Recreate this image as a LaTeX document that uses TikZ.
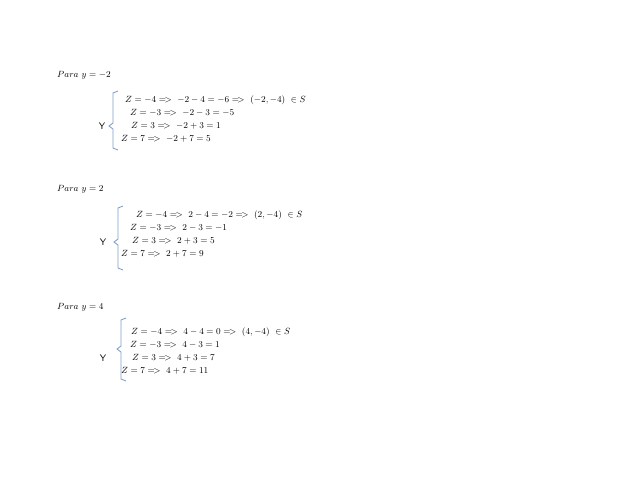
\documentclass[tikz,border=0pt]{standalone}
\usepackage{amsmath}
\begin{document}
\begin{tikzpicture}[x=1pt,y=-1pt,
  eq/.style={anchor=west,inner sep=0pt,font=\fontsize{9}{10}\selectfont},
  ylab/.style={anchor=center,inner sep=0pt,font=\fontsize{9.5}{10}\sffamily},
  br/.style={draw={rgb,255:red,130;green,160;blue,200},line width=0.9pt}]
\useasboundingbox[fill=white] (0,0) rectangle (638,493);
\newcommand{\mybrace}[4]{% x, top, mid, bot
  \draw[br] (#1+5,#2)--(#1,#2+2)--(#1,#3-3)--(#1-4,#3)--(#1,#3+3)--(#1,#4-2)--(#1+5,#4);}
% Section 1
\node[eq] (t1) at (57,75) {$Para\ y=-2$};
\node[eq] (a1) at (125,100) {$Z=-4 =\!> \ -2-4=-6 =\!> \ (-2,-4)\ \in S$};
\node[eq] (a2) at (130,113) {$Z=-3 =\!> \ -2-3=-5$};
\node[eq] (a3) at (131,126) {$Z=3 =\!> \ -2+3=1$};
\node[eq] (a4) at (121,139) {$Z=7 =\!> \ -2+7=5$};
\node[ylab] (y1) at (102,126) {Y};
\mybrace{113}{91}{126}{150}
% Section 2
\node[eq] (t2) at (57,189) {$Para\ y=2$};
\node[eq] (b1) at (136,215) {$Z=-4 =\!> \ 2-4=-2 =\!> \ (2,-4)\ \in S$};
\node[eq] (b2) at (130,228) {$Z=-3 =\!> \ 2-3=-1$};
\node[eq] (b3) at (132,241) {$Z=3 =\!> \ 2+3=5$};
\node[eq] (b4) at (121,254) {$Z=7 =\!> \ 2+7=9$};
\node[ylab] (y2) at (103,242) {Y};
\mybrace{118}{206}{242}{270}
% Section 3
\node[eq] (t3) at (57,307) {$Para\ y=4$};
\node[eq] (c1) at (131,332) {$Z=-4 =\!> \ 4-4=0 =\!> \ (4,-4)\ \in S$};
\node[eq] (c2) at (130,345) {$Z=-3 =\!> \ 4-3=1$};
\node[eq] (c3) at (132,358) {$Z=3 =\!> \ 4+3=7$};
\node[eq] (c4) at (121,371) {$Z=7 =\!> \ 4+7=11$};
\node[ylab] (y3) at (103,358) {Y};
\mybrace{121}{318}{349}{381}
\end{tikzpicture}
\end{document}
